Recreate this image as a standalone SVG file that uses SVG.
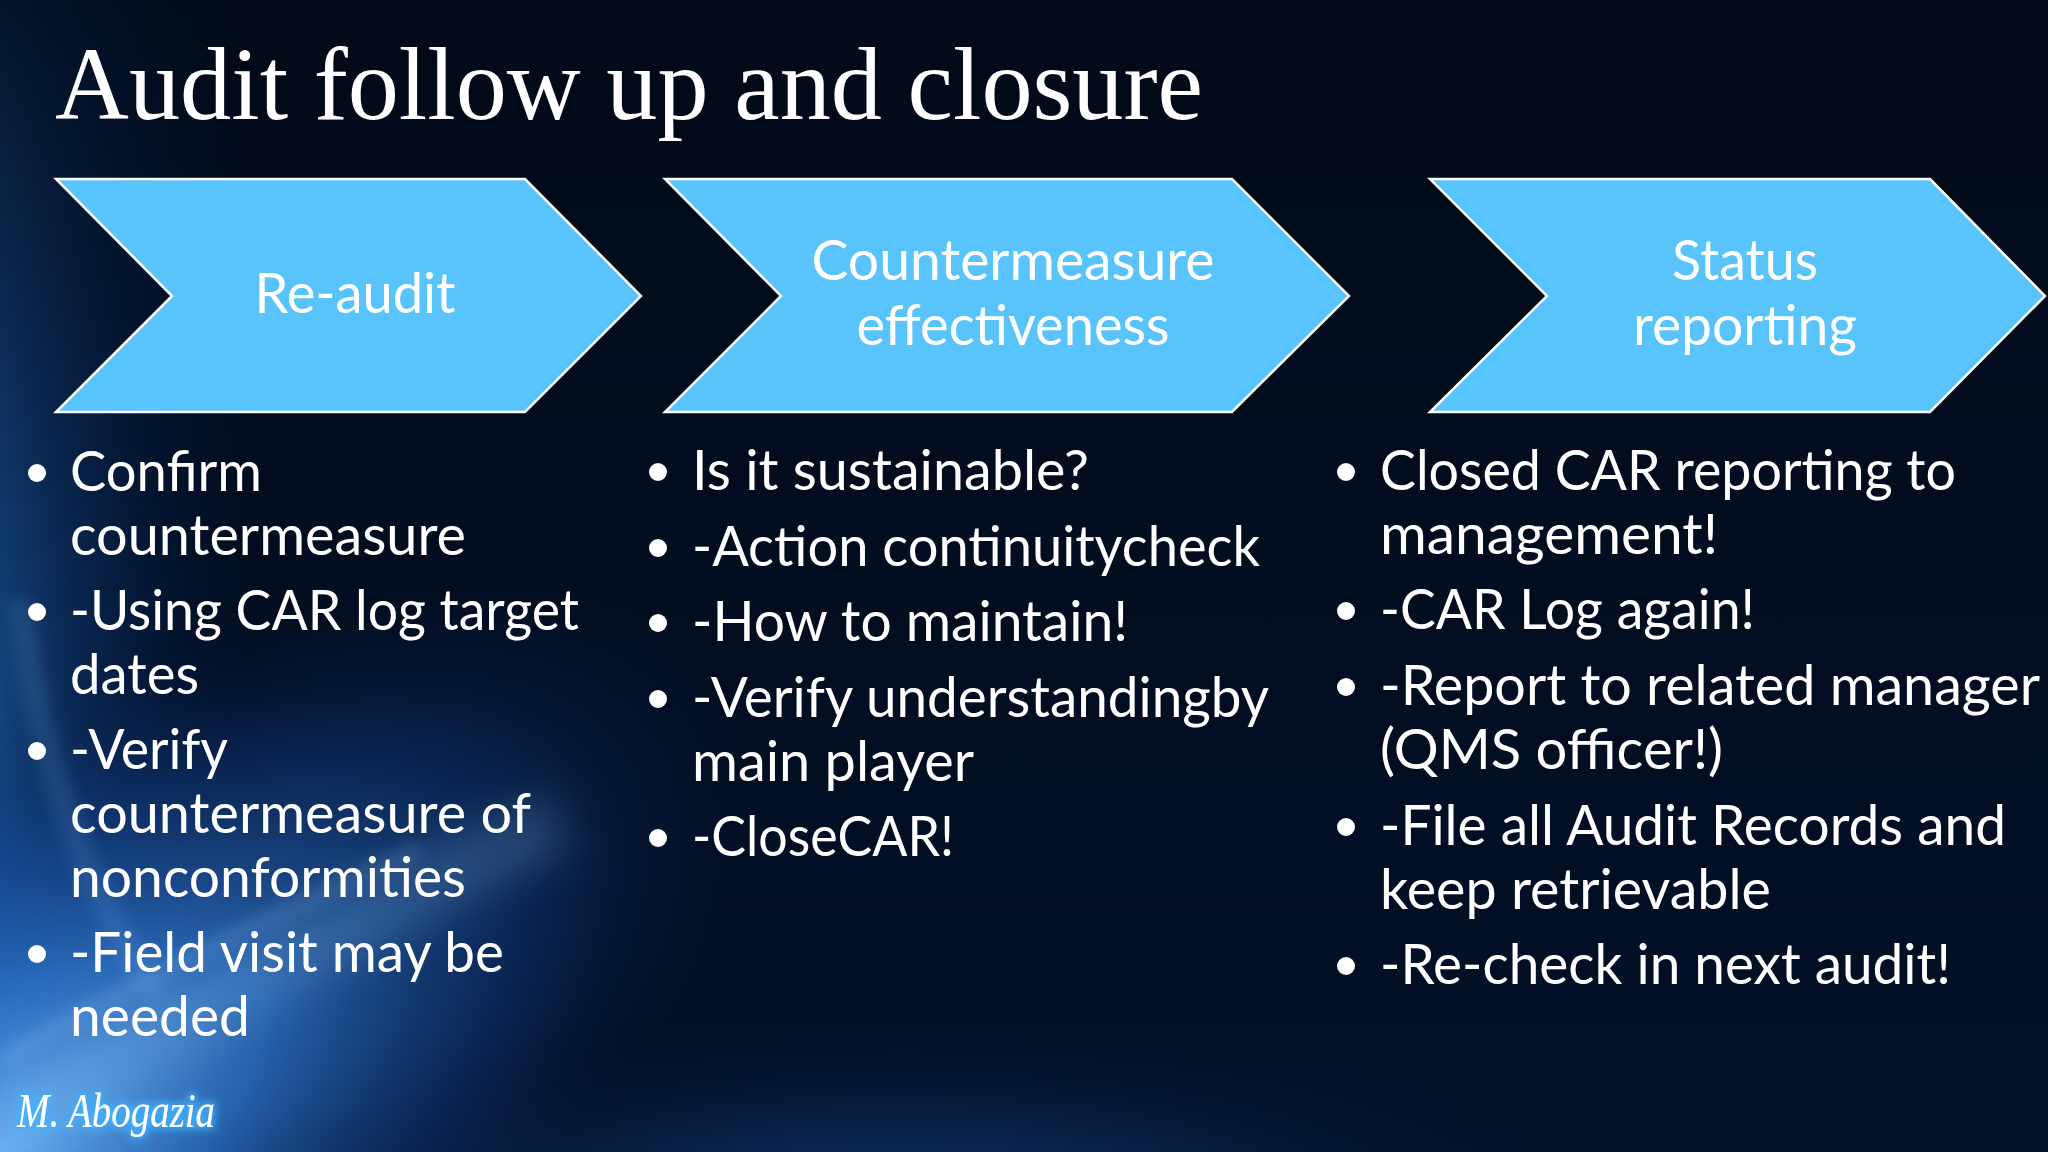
<svg xmlns="http://www.w3.org/2000/svg" width="2048" height="1152" viewBox="0 0 2048 1152">
<defs>
<style>
.t{font-family:Lato,"Open Sans","Liberation Sans",sans-serif;font-size:56px;fill:#ffffff}
.chev{fill:#59c4fc;stroke:#ffffff;stroke-width:2.5;stroke-linejoin:miter}
.ct{font-family:Lato,"Open Sans","Liberation Sans",sans-serif;font-size:56px;fill:#ffffff;text-anchor:middle}
.dot{fill:#ffffff}
</style>
<linearGradient id="bg" x1="0" y1="0" x2="0" y2="1">
<stop offset="0" stop-color="#020a18"/>
<stop offset="1" stop-color="#031028"/>
</linearGradient>
<radialGradient id="glow1" cx="0" cy="1152" r="1" gradientUnits="userSpaceOnUse" gradientTransform="translate(0 1152) rotate(-33) scale(860 380) translate(0 -1152)">
<stop offset="0" stop-color="#6cb2f2" stop-opacity="0.95"/>
<stop offset="0.35" stop-color="#3078d0" stop-opacity="0.78"/>
<stop offset="0.7" stop-color="#123f88" stop-opacity="0.45"/>
<stop offset="1" stop-color="#061a40" stop-opacity="0"/>
</radialGradient>
<radialGradient id="glow2" cx="900" cy="1200" r="1" gradientUnits="userSpaceOnUse" gradientTransform="translate(900 1200) scale(700 180) translate(-900 -1200)">
<stop offset="0" stop-color="#1d5fb4" stop-opacity="0.55"/>
<stop offset="1" stop-color="#061a40" stop-opacity="0"/>
</radialGradient>
<linearGradient id="edge" x1="0" y1="0" x2="1" y2="0">
<stop offset="0" stop-color="#1e63b5" stop-opacity="0.85"/>
<stop offset="0.5" stop-color="#0d3a7a" stop-opacity="0.45"/>
<stop offset="1" stop-color="#061a40" stop-opacity="0"/>
</linearGradient>
<linearGradient id="edgeMaskG" x1="0" y1="0" x2="0" y2="1">
<stop offset="0" stop-color="#fff" stop-opacity="0.15"/>
<stop offset="0.45" stop-color="#fff" stop-opacity="0.6"/>
<stop offset="1" stop-color="#fff" stop-opacity="1"/>
</linearGradient>
<mask id="edgeMask"><rect x="0" y="0" width="260" height="1152" fill="url(#edgeMaskG)"/></mask>
<filter id="blur20" x="-50%" y="-50%" width="200%" height="200%"><feGaussianBlur stdDeviation="22"/></filter>
<filter id="blur8" x="-50%" y="-50%" width="200%" height="200%"><feGaussianBlur stdDeviation="8"/></filter>
<filter id="sig" x="-20%" y="-40%" width="140%" height="180%">
<feMorphology in="SourceAlpha" operator="dilate" radius="2" result="d"/>
<feGaussianBlur in="d" stdDeviation="4" result="b"/>
<feFlood flood-color="#3fb2ff" flood-opacity="0.95"/>
<feComposite in2="b" operator="in" result="g"/>
<feMerge><feMergeNode in="g"/><feMergeNode in="SourceGraphic"/></feMerge>
</filter>
</defs>

<g id="background">
<rect x="0" y="0" width="2048" height="1152" fill="url(#bg)"/>
<rect x="0" y="0" width="260" height="1152" fill="url(#edge)" mask="url(#edgeMask)"/>
<rect x="0" y="400" width="2048" height="752" fill="url(#glow1)"/>
<rect x="0" y="900" width="2048" height="252" fill="url(#glow2)"/>
<path d="M0 1120 C 150 1040, 330 930, 560 820" stroke="#8cc4f5" stroke-width="60" fill="none" opacity="0.22" filter="url(#blur20)"/>
<path d="M0 1060 C 120 990, 260 920, 420 850" stroke="#a8d4fa" stroke-width="14" fill="none" opacity="0.18" filter="url(#blur8)"/>
<path d="M20 600 C 40 760, 80 880, 160 1000" stroke="#6fa8e8" stroke-width="24" fill="none" opacity="0.18" filter="url(#blur8)"/>
</g>

<g id="title">
<text x="55" y="119" font-family="'Liberation Serif','DejaVu Serif',serif" font-size="104" fill="#ffffff" textLength="1148" lengthAdjust="spacingAndGlyphs">Audit follow up and closure</text>
</g>

<g id="chevron-reaudit">
<polygon class="chev" points="56,179 525,179 641,296 525,412 56,412 172,296"/>
<text class="ct" x="355" y="313" textLength="201" lengthAdjust="spacingAndGlyphs">Re-audit</text>
</g>

<g id="chevron-effectiveness">
<polygon class="chev" points="665,179 1232,179 1349,296 1232,412 665,412 781,296"/>
<text class="ct" x="1013" y="280" textLength="403" lengthAdjust="spacingAndGlyphs">Countermeasure</text>
<text class="ct" x="1013" y="345" textLength="313" lengthAdjust="spacingAndGlyphs">effectiveness</text>
</g>

<g id="chevron-status">
<polygon class="chev" points="1430,179 1930,179 2045,296 1930,412 1430,412 1547,296"/>
<text class="ct" x="1745" y="280" textLength="146" lengthAdjust="spacingAndGlyphs">Status</text>
<text class="ct" x="1745" y="345" textLength="224" lengthAdjust="spacingAndGlyphs">reporting</text>
</g>

<g id="connectors"></g>

<g id="list-reaudit">
<circle class="dot" cx="37" cy="473" r="9"/>
<text class="t" x="70" y="491" textLength="192" lengthAdjust="spacingAndGlyphs">Confirm</text>
<text class="t" x="70" y="555" textLength="396" lengthAdjust="spacingAndGlyphs">countermeasure</text>
<circle class="dot" cx="37" cy="612" r="9"/>
<text class="t" x="70" y="630" textLength="509" lengthAdjust="spacingAndGlyphs">-Using CAR log target</text>
<text class="t" x="70" y="694" textLength="129" lengthAdjust="spacingAndGlyphs">dates</text>
<circle class="dot" cx="37" cy="751" r="9"/>
<text class="t" x="70" y="769" textLength="158" lengthAdjust="spacingAndGlyphs">-Verify</text>
<text class="t" x="70" y="833" textLength="461" lengthAdjust="spacingAndGlyphs">countermeasure of</text>
<text class="t" x="70" y="897" textLength="396" lengthAdjust="spacingAndGlyphs">nonconformities</text>
<circle class="dot" cx="37" cy="954" r="9"/>
<text class="t" x="70" y="972" textLength="434" lengthAdjust="spacingAndGlyphs">-Field visit may be</text>
<text class="t" x="70" y="1036" textLength="180" lengthAdjust="spacingAndGlyphs">needed</text>
</g>

<g id="list-effectiveness">
<circle class="dot" cx="658" cy="472" r="9"/>
<text class="t" x="692" y="490" textLength="397" lengthAdjust="spacingAndGlyphs">Is it sustainable?</text>
<circle class="dot" cx="658" cy="548" r="9"/>
<text class="t" x="692" y="566" textLength="568" lengthAdjust="spacingAndGlyphs">-Action continuitycheck</text>
<circle class="dot" cx="658" cy="623" r="9"/>
<text class="t" x="692" y="641" textLength="436" lengthAdjust="spacingAndGlyphs">-How to maintain!</text>
<circle class="dot" cx="658" cy="699" r="9"/>
<text class="t" x="692" y="717" textLength="577" lengthAdjust="spacingAndGlyphs">-Verify understandingby</text>
<text class="t" x="692" y="781" textLength="282" lengthAdjust="spacingAndGlyphs">main player</text>
<circle class="dot" cx="658" cy="838" r="9"/>
<text class="t" x="692" y="856" textLength="262" lengthAdjust="spacingAndGlyphs">-CloseCAR!</text>
</g>

<g id="list-status">
<circle class="dot" cx="1346" cy="472" r="9"/>
<text class="t" x="1380" y="490" textLength="576" lengthAdjust="spacingAndGlyphs">Closed CAR reporting to</text>
<text class="t" x="1380" y="554" textLength="338" lengthAdjust="spacingAndGlyphs">management!</text>
<circle class="dot" cx="1346" cy="611" r="9"/>
<text class="t" x="1380" y="629" textLength="375" lengthAdjust="spacingAndGlyphs">-CAR Log again!</text>
<circle class="dot" cx="1346" cy="687" r="9"/>
<text class="t" x="1380" y="705" textLength="660" lengthAdjust="spacingAndGlyphs">-Report to related manager</text>
<text class="t" x="1380" y="769" textLength="343" lengthAdjust="spacingAndGlyphs">(QMS officer!)</text>
<circle class="dot" cx="1346" cy="827" r="9"/>
<text class="t" x="1380" y="845" textLength="626" lengthAdjust="spacingAndGlyphs">-File all Audit Records and</text>
<text class="t" x="1380" y="909" textLength="391" lengthAdjust="spacingAndGlyphs">keep retrievable</text>
<circle class="dot" cx="1346" cy="966" r="9"/>
<text class="t" x="1380" y="984" textLength="571" lengthAdjust="spacingAndGlyphs">-Re-check in next audit!</text>
</g>

<g id="signature">
<text x="17" y="1127" font-family="'Liberation Serif','DejaVu Serif',serif" font-style="italic" font-size="48" fill="#ffffff" filter="url(#sig)" textLength="198" lengthAdjust="spacingAndGlyphs">M. Abogazia</text>
</g>
</svg>
